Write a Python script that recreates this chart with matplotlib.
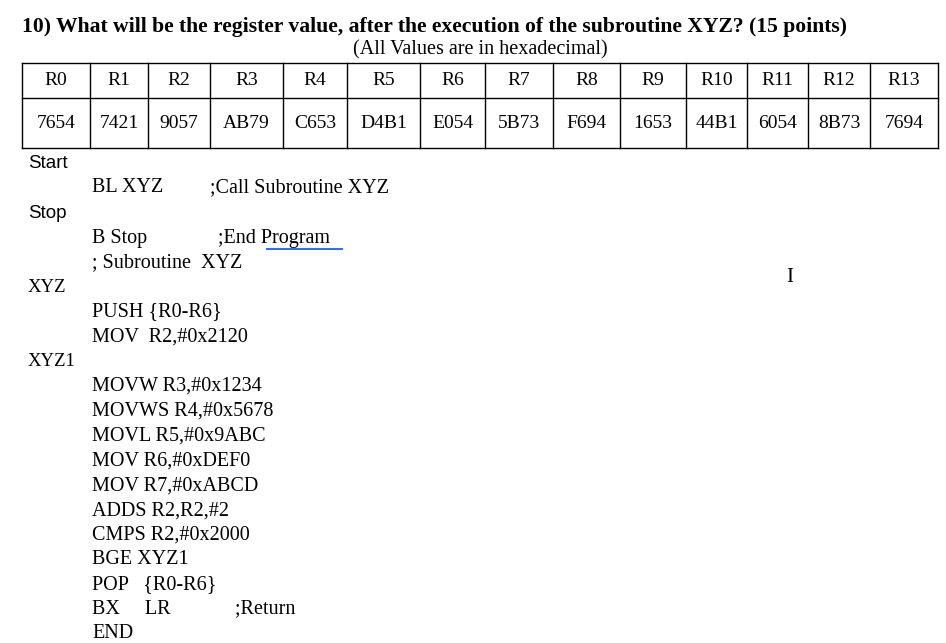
import matplotlib
matplotlib.use("Agg")
import matplotlib.pyplot as plt

registers = ["R0", "R1", "R2", "R3", "R4", "R5", "R6", "R7", "R8", "R9", "R10", "R11", "R12", "R13"]
values = ["7654", "7421", "9057", "AB79", "C653", "D4B1", "E054", "5B73", "F694", "1653", "44B1", "6054", "8B73", "7694"]
col_edges = [22, 90, 148, 210, 283, 347, 420, 485, 553, 620, 686, 747, 808, 870, 938]

labels = [("Start", 163, "sans"), ("Stop", 213, "sans"), ("XYZ", 288, "serif"), ("XYZ1", 362, "serif")]
code = [
    (188, "BL XYZ", ";Call Subroutine XYZ", 210),
    (238, "B Stop", ";End Program", 218),
    (263, "; Subroutine  XYZ", "", 0),
    (312, "PUSH {R0-R6}", "", 0),
    (337, "MOV  R2,#0x2120", "", 0),
    (386, "MOVW R3,#0x1234", "", 0),
    (411, "MOVWS R4,#0x5678", "", 0),
    (436, "MOVL R5,#0x9ABC", "", 0),
    (461, "MOV R6,#0xDEF0", "", 0),
    (486, "MOV R7,#0xABCD", "", 0),
    (511, "ADDS R2,R2,#2", "", 0),
    (535, "CMPS R2,#0x2000", "", 0),
    (560, "BGE XYZ1", "", 0),
    (585, "POP   {R0-R6}", "", 0),
    (609, "BX     LR", ";Return", 235),
    (634, "END", "", 0),
]

serif = "Liberation Serif"
sans = "Liberation Sans"

fig = plt.figure(figsize=(9.46, 6.43), dpi=100)
ax = fig.add_axes([0, 0, 1, 1])
ax.set_xlim(0, 946)
ax.set_ylim(643, 0)
ax.axis("off")

ax.text(22, 27, "10) What will be the register value, after the execution of the subroutine XYZ? (15 points)",
        family=serif, weight="bold", fontsize=15.6, va="center")
ax.text(480, 50, "(All Values are in hexadecimal)", family=serif, fontsize=14.5, va="center", ha="center")

# table
top, mid, bot = 63, 98, 148
for y in (top, mid, bot):
    ax.plot([col_edges[0], col_edges[-1]], [y, y], color="black", lw=1)
for x in col_edges:
    ax.plot([x, x], [top, bot], color="black", lw=1)
for i, (r, v) in enumerate(zip(registers, values)):
    cx = (col_edges[i] + col_edges[i + 1]) / 2
    ax.text(cx, (top + mid) / 2, r, family=serif, fontsize=14, ha="center", va="center")
    ax.text(cx, (mid + bot) / 2, v, family=serif, fontsize=14, ha="center", va="center")

for text, y, kind in labels:
    ax.text(28, y, text, family=sans if kind == "sans" else serif, fontsize=13.5, va="center")

for y, instr, comment, cx in code:
    ax.text(92, y, instr, family=serif, fontsize=14.5, va="center")
    if comment:
        ax.text(cx, y, comment, family=serif, fontsize=14.5, va="center")

# spell-check underline under "Program"
ax.plot([267, 342], [249, 249], color="#3b6fd0", lw=1.5)

# text cursor
ax.text(790, 278, "I", family=serif, fontsize=15, ha="center", va="center")

fig.savefig("out.png", dpi=100)
